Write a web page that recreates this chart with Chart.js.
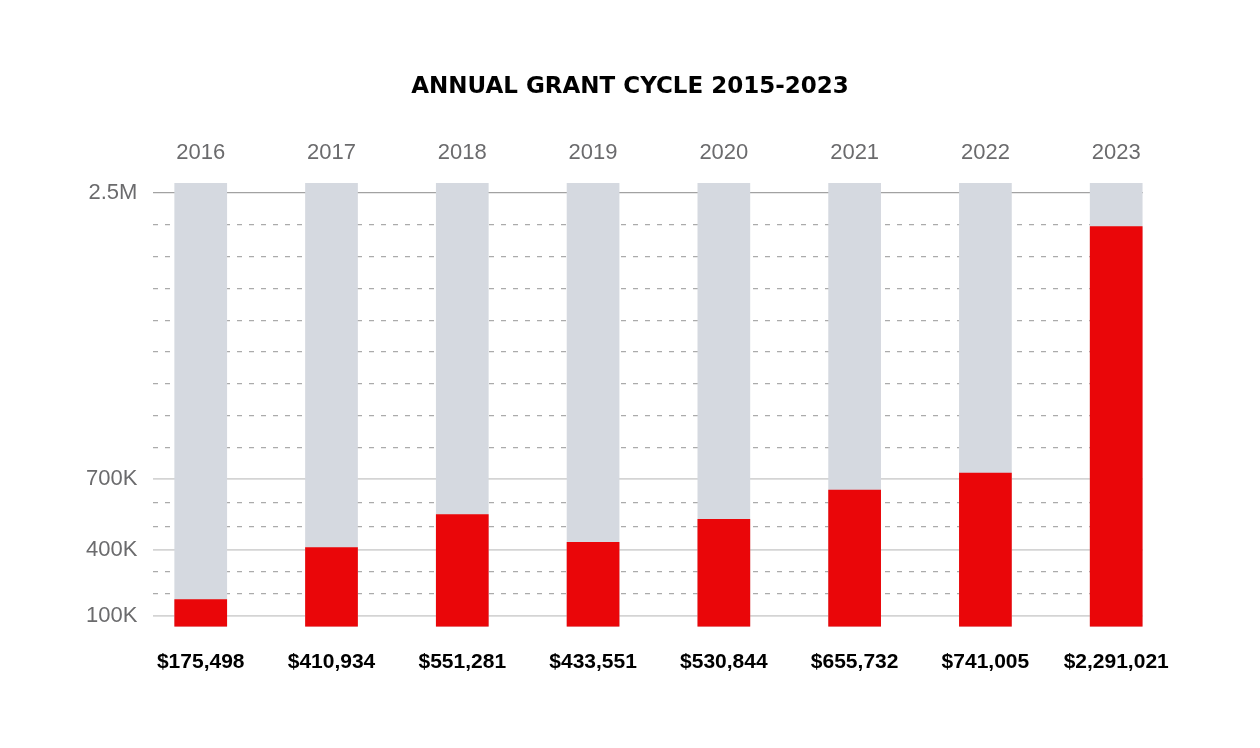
<!DOCTYPE html>
<html>
<head>
<meta charset="utf-8">
<title>Annual Grant Cycle 2015-2023</title>
<script src="https://cdn.jsdelivr.net/npm/chart.js@4.4.1/dist/chart.umd.min.js"></script>
<style>
  html, body { margin: 0; padding: 0; background: #fff; }
  #wrap { width: 1260px; height: 748px; }
</style>
</head>
<body>
<div id="wrap"><canvas id="grants"></canvas></div>
<script>
const years = [2016, 2017, 2018, 2019, 2020, 2021, 2022, 2023];
const grantTotals = [175498, 410934, 551281, 433551, 530844, 655732, 741005, 2291021];
const labeledTicks = [100000, 400000, 700000, 2500000];
const dashedTicks = [200000, 300000, 500000, 600000, 900000, 1100000, 1300000,
  1500000, 1700000, 1900000, 2100000, 2300000];
const yTop = 2563000;

// the original y axis isn't linear: every band between two labelled values
// gets its own share of the height (in px of the 442px plot)
const yBreaks = [0, 100000, 400000, 700000, 2500000, yTop];
const yBands = [11, 65.7, 70.3, 285.4, 10];
const bandTotal = yBands.reduce((a, b) => a + b, 0);

class BandedScale extends Chart.LinearScale {
  getPixelForValue(value) {
    if (value === null || isNaN(value)) return NaN;
    let acc = 0, i = 0;
    while (i < yBands.length - 1 && value > yBreaks[i + 1]) {
      acc += yBands[i];
      i++;
    }
    const frac = (value - yBreaks[i]) / (yBreaks[i + 1] - yBreaks[i]);
    return this.getPixelForDecimal((acc + frac * yBands[i]) / bandTotal);
  }
  getValueForPixel(pixel) {
    let d = this.getDecimalForPixel(pixel) * bandTotal;
    for (let i = 0; i < yBands.length; i++) {
      if (d <= yBands[i] || i === yBands.length - 1) {
        return yBreaks[i] + d / yBands[i] * (yBreaks[i + 1] - yBreaks[i]);
      }
      d -= yBands[i];
    }
  }
}
BandedScale.id = 'banded';
BandedScale.defaults = Chart.LinearScale.defaults;
Chart.register(BandedScale);

const shortMoney = v => v >= 1e6 ? (v / 1e6) + 'M' : (v / 1e3) + 'K';
const isLabeled = v => labeledTicks.includes(v);
const yearTicks = scale => { scale.ticks = years.map(v => ({ value: v })); };

// x range chosen so the bars sit where they do in the original
const xMin = 2015.638;
const xMax = 2023.205;

new Chart(document.getElementById('grants'), {
  type: 'bar',
  data: {
    datasets: [{
      label: 'Grants',
      data: years.map((yr, i) => ({ x: yr, y: grantTotals[i] })),
      backgroundColor: '#ea0609',
      grouped: false,
      order: 0
    }, {
      label: 'Track',
      data: years.map(yr => ({ x: yr, y: yTop })),
      backgroundColor: '#d5d9e0',
      grouped: false,
      order: 1
    }]
  },
  options: {
    responsive: true,
    maintainAspectRatio: false,
    animation: false,
    events: [],
    barPercentage: 0.403,
    categoryPercentage: 1,
    // symmetric so the title stays centred on the page; the plot's extra
    // right margin comes from the top axis padding below
    layout: { padding: { top: 73, left: 70, right: 70, bottom: 50 } },
    plugins: {
      legend: { display: false },
      tooltip: { enabled: false },
      title: {
        display: true,
        text: 'ANNUAL GRANT CYCLE 2015-2023',
        color: '#000',
        font: { family: 'DejaVu Sans', size: 23, weight: 'bold' },
        padding: { top: 0, bottom: 22 }
      }
    },
    scales: {
      x: {
        type: 'linear',
        position: 'top',
        min: xMin,
        max: xMax,
        offset: false,
        grid: { display: false, drawTicks: false },
        border: { display: false },
        afterBuildTicks: yearTicks,
        afterFit: scale => { scale.paddingRight = 117; },
        ticks: {
          autoSkip: false,
          maxRotation: 0,
          padding: 17,
          color: '#6b6b6d',
          font: { family: 'Liberation Sans', size: 22 },
          callback: v => String(v)
        }
      },
      xAmounts: {
        type: 'linear',
        position: 'bottom',
        min: xMin,
        max: xMax,
        offset: false,
        grid: { display: false, drawTicks: false },
        border: { display: false },
        afterBuildTicks: yearTicks,
        ticks: {
          autoSkip: false,
          maxRotation: 0,
          padding: 23,
          color: '#000',
          font: { family: 'Liberation Sans', size: 21, weight: 'bold' },
          callback: v => '$' + grantTotals[years.indexOf(v)].toLocaleString('en-US')
        }
      },
      y: {
        type: 'banded',
        min: 0,
        max: yTop,
        afterBuildTicks: scale => {
          scale.ticks = labeledTicks.concat(dashedTicks)
            .sort((a, b) => a - b)
            .map(v => ({ value: v }));
        },
        grid: {
          drawTicks: false,
          color: ctx => ctx.tick.value === 2500000 ? '#a2a2a2'
            : isLabeled(ctx.tick.value) ? '#d4d4d4' : '#ababab',
          lineWidth: ctx => ctx.tick.value === 2500000 ? 1.2
            : isLabeled(ctx.tick.value) ? 1.8 : 1.3
        },
        border: {
          display: false,
          dash: ctx => isLabeled(ctx.tick.value) ? [] : [5, 7]
        },
        ticks: {
          autoSkip: false,
          padding: 16,
          color: '#6b6b6d',
          font: { family: 'Liberation Sans', size: 22 },
          callback: v => isLabeled(v) ? shortMoney(v) : ''
        }
      }
    }
  }
});
</script>
</body>
</html>
